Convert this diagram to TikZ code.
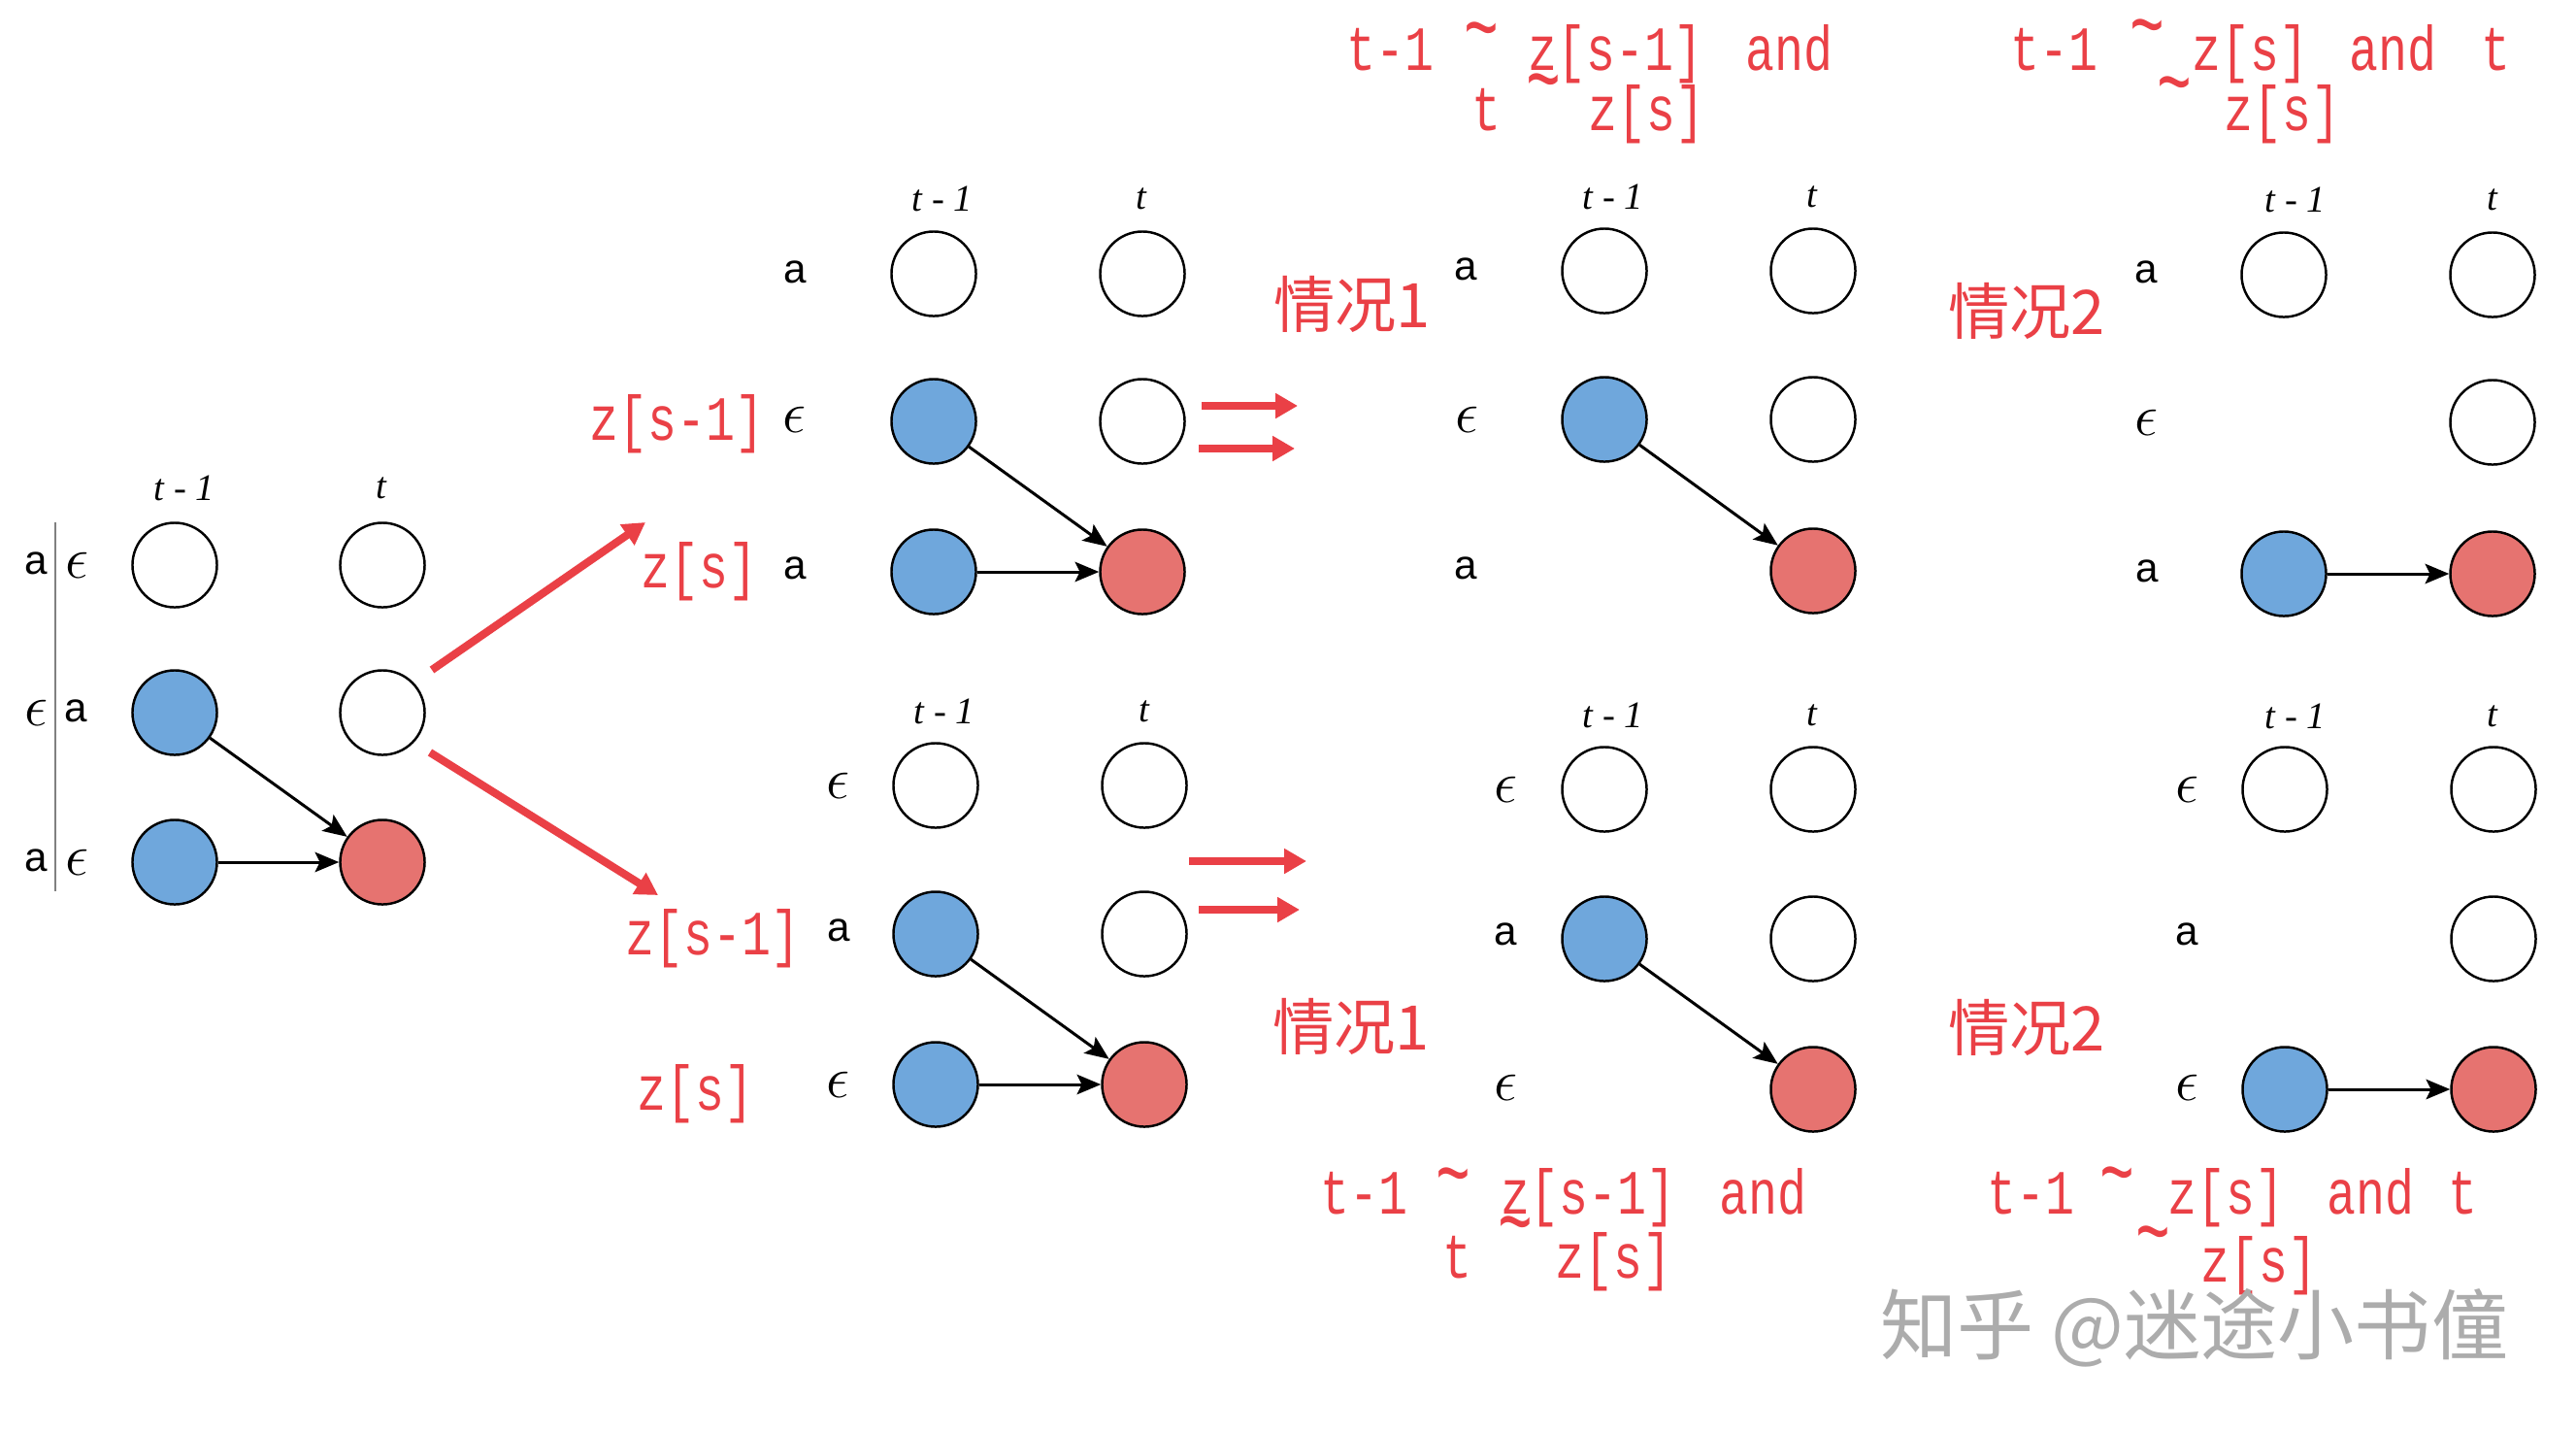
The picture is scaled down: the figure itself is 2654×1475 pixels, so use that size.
\documentclass[tikz,border=0pt]{standalone}
\usepackage{fontspec}
\usepackage{graphicx}
\usetikzlibrary{arrows.meta}
\setmainfont{Liberation Serif}
\newfontfamily\sansf{Liberation Sans}
\newfontfamily\monof{Liberation Mono}
\newfontfamily\cjkf{Noto Sans CJK SC}
\definecolor{nodeblue}{RGB}{111,167,220}
\definecolor{nodered}{RGB}{230,115,112}
\definecolor{markred}{RGB}{234,64,70}
\definecolor{wmgray}{RGB}{172,172,172}
\newcommand{\rtx}[1]{\scalebox{1}[1.3]{#1}}
\newcommand{\tlx}{\scalebox{1}[1.6]{\char`\~}}
\begin{document}
\begin{tikzpicture}[x=0.01cm, y=-0.01cm,
  st/.style={circle, draw=black, line width=0.7pt, minimum size=0.87cm, inner sep=0pt},
  emp/.style={st, fill=white},
  blu/.style={st, fill=nodeblue},
  rd/.style={st, fill=nodered},
  lab/.style={font=\sansf\fontsize{12}{14}\selectfont, inner sep=0pt},
  eps/.style={font=\fontsize{17}{19}\selectfont, inner sep=0pt},
  hdr/.style={font=\itshape\fontsize{11}{13}\selectfont, inner sep=0pt},
  blk/.style={-{Stealth[length=7pt,width=5.8pt,inset=1.4pt]}, line width=0.85pt},
  rarr/.style={-{Triangle[length=6.5pt,width=7pt]}, line width=2.3pt, draw=markred},
  rtxt/.style={text=markred, font=\monof\fontsize{14.2}{16}\selectfont, inner sep=0pt, anchor=base west},
  tld/.style={text=markred, font=\monof\fontsize{17}{19}\selectfont, inner sep=0pt},
  cjk/.style={text=markred, font=\cjkf\fontsize{18}{20}\selectfont, inner sep=0pt},
  wm/.style={text=wmgray, font=\cjkf\fontsize{22.5}{24}\selectfont, inner sep=0pt}]
\fill[white] (0,0) rectangle (2654,1475);
\useasboundingbox (0,0) rectangle (2654,1475);

% ---------------- left panel ----------------
\node[hdr] (Lh1) at (190,503) {t - 1};
\node[hdr] (Lh2) at (393,503) {t};
\node[emp] (L11) at (180,582) {};
\node[emp] (L12) at (394,582) {};
\node[blu] (L21) at (180,734) {};
\node[emp] (L22) at (394,734) {};
\node[blu] (L31) at (180,888) {};
\node[rd]  (L32) at (394,888) {};
\node[lab] (La1) at (37,580) {a};
\node[eps] (Le1) at (80,582) {$\epsilon$};
\node[eps] (Le2) at (38,734) {$\epsilon$};
\node[lab] (La2) at (78,732) {a};
\node[lab] (La3) at (37,886) {a};
\node[eps] (Le3) at (80,888) {$\epsilon$};
\draw[gray, line width=0.6pt] (57,538) -- (57,918);
\draw[blk] (L21) -- (L32);
\draw[blk] (L31) -- (L32);

% red branching arrows
\coordinate (RA1s) at (445,690);
\coordinate (RA1e) at (665,538);
\coordinate (RA2s) at (443,775);
\coordinate (RA2e) at (678,922);
\draw[rarr] (RA1s) -- (RA1e);
\draw[rarr] (RA2s) -- (RA2e);

% ---------------- top middle panel ----------------
\node[hdr] (Th1) at (971,205) {t - 1};
\node[hdr] (Th2) at (1176,205) {t};
\node[emp] (T11) at (962,282) {};
\node[emp] (T12) at (1177,282) {};
\node[blu] (T21) at (962,434) {};
\node[emp] (T22) at (1177,434) {};
\node[blu] (T31) at (962,589) {};
\node[rd]  (T32) at (1177,589) {};
\node[lab] (Ta1) at (819,280) {a};
\node[eps] (Te2) at (819,432) {$\epsilon$};
\node[lab] (Ta3) at (819,585) {a};
\draw[blk] (T21) -- (T32);
\draw[blk] (T31) -- (T32);
\node[rtxt] (Tz1) at (607,453) {\rtx{z[s-1]}};
\node[rtxt] (Tz2) at (660,605) {\rtx{z[s]}};

% ---------------- bottom middle panel ----------------
\node[hdr] (Bh1) at (973,733) {t - 1};
\node[hdr] (Bh2) at (1179,733) {t};
\node[emp] (B11) at (964,809) {};
\node[emp] (B12) at (1179,809) {};
\node[blu] (B21) at (964,962) {};
\node[emp] (B22) at (1179,962) {};
\node[blu] (B31) at (964,1117) {};
\node[rd]  (B32) at (1179,1117) {};
\node[eps] (Be1) at (864,809) {$\epsilon$};
\node[lab] (Ba2) at (864,958) {a};
\node[eps] (Be3) at (864,1117) {$\epsilon$};
\draw[blk] (B21) -- (B32);
\draw[blk] (B31) -- (B32);
\node[rtxt] (Bz1) at (644,983) {\rtx{z[s-1]}};
\node[rtxt] (Bz2) at (656,1143) {\rtx{z[s]}};

% double red arrows
\coordinate (DA1s) at (1238,418);
\coordinate (DA1e) at (1337,418);
\coordinate (DA2s) at (1235,462);
\coordinate (DA2e) at (1334,462);
\coordinate (DB1s) at (1225,887);
\coordinate (DB1e) at (1346,887);
\coordinate (DB2s) at (1235,937);
\coordinate (DB2e) at (1339,937);
\draw[rarr] (DA1s) -- (DA1e);
\draw[rarr] (DA2s) -- (DA2e);
\draw[rarr] (DB1s) -- (DB1e);
\draw[rarr] (DB2s) -- (DB2e);

% ---------------- top right, case 1 ----------------
\node[cjk] (C1t) at (1393,313) {情况1};
\node[hdr] (Ph1) at (1662,203) {t - 1};
\node[hdr] (Ph2) at (1867,203) {t};
\node[emp] (P11) at (1653,279) {};
\node[emp] (P12) at (1868,279) {};
\node[blu] (P21) at (1653,432) {};
\node[emp] (P22) at (1868,432) {};
\node[rd]  (P32) at (1868,588) {};
\node[lab] (Pa1) at (1510,277) {a};
\node[eps] (Pe2) at (1511,432) {$\epsilon$};
\node[lab] (Pa3) at (1510,585) {a};
\draw[blk] (P21) -- (P32);

% ---------------- top right, case 2 ----------------
\node[cjk] (C2t) at (2088,320) {情况2};
\node[hdr] (Qh1) at (2365,206) {t - 1};
\node[hdr] (Qh2) at (2568,206) {t};
\node[emp] (Q11) at (2353,283) {};
\node[emp] (Q12) at (2568,283) {};
\node[emp] (Q22) at (2568,435) {};
\node[blu] (Q31) at (2353,591) {};
\node[rd]  (Q32) at (2568,591) {};
\node[lab] (Qa1) at (2211,280) {a};
\node[eps] (Qe2) at (2211,435) {$\epsilon$};
\node[lab] (Qa3) at (2212,588) {a};
\draw[blk] (Q31) -- (Q32);

% ---------------- bottom right, case 1 ----------------
\node[cjk] (C1b) at (1392,1057) {情况1};
\node[hdr] (Rh1) at (1662,737) {t - 1};
\node[hdr] (Rh2) at (1867,737) {t};
\node[emp] (R11) at (1653,813) {};
\node[emp] (R12) at (1868,813) {};
\node[blu] (R21) at (1653,967) {};
\node[emp] (R22) at (1868,967) {};
\node[rd]  (R32) at (1868,1122) {};
\node[eps] (Re1) at (1551,813) {$\epsilon$};
\node[lab] (Ra2) at (1551,962) {a};
\node[eps] (Re3) at (1551,1120) {$\epsilon$};
\draw[blk] (R21) -- (R32);

% ---------------- bottom right, case 2 ----------------
\node[cjk] (C2b) at (2088,1058) {情况2};
\node[hdr] (Sh1) at (2365,738) {t - 1};
\node[hdr] (Sh2) at (2568,738) {t};
\node[emp] (S11) at (2354,813) {};
\node[emp] (S12) at (2569,813) {};
\node[emp] (S22) at (2569,967) {};
\node[blu] (S31) at (2354,1122) {};
\node[rd]  (S32) at (2569,1122) {};
\node[eps] (Se1) at (2253,813) {$\epsilon$};
\node[lab] (Sa2) at (2253,962) {a};
\node[eps] (Se3) at (2253,1120) {$\epsilon$};
\draw[blk] (S31) -- (S32);

% ---------------- top formula labels ----------------
\node[rtxt] (FA1) at (1387,72) {\rtx{t-1}};
\node[tld]  (FA2) at (1526,42) {\tlx};
\node[rtxt] (FA3) at (1574,72) {\rtx{z[s-1]}};
\node[rtxt] (FA4) at (1798,72) {\rtx{and}};
\node[rtxt] (FA5) at (1516,134) {\rtx{t}};
\node[tld]  (FA6) at (1590,95) {\tlx};
\node[rtxt] (FA7) at (1636,134) {\rtx{z[s]}};

\node[rtxt] (FB1) at (2071,72) {\rtx{t-1}};
\node[tld]  (FB2) at (2212,39) {\tlx};
\node[rtxt] (FB3) at (2258,72) {\rtx{z[s]}};
\node[rtxt] (FB4) at (2420,72) {\rtx{and}};
\node[rtxt] (FB5) at (2556,72) {\rtx{t}};
\node[tld]  (FB6) at (2240,98) {\tlx};
\node[rtxt] (FB7) at (2291,134) {\rtx{z[s]}};

% ---------------- bottom formula labels ----------------
\node[rtxt] (GA1) at (1360,1250) {\rtx{t-1}};
\node[tld]  (GA2) at (1497,1222) {\tlx};
\node[rtxt] (GA3) at (1546,1250) {\rtx{z[s-1]}};
\node[rtxt] (GA4) at (1771,1250) {\rtx{and}};
\node[rtxt] (GA5) at (1486,1316) {\rtx{t}};
\node[tld]  (GA6) at (1561,1272) {\tlx};
\node[rtxt] (GA7) at (1602,1316) {\rtx{z[s]}};

\node[rtxt] (GB1) at (2047,1250) {\rtx{t-1}};
\node[tld]  (GB2) at (2181,1221) {\tlx};
\node[rtxt] (GB3) at (2233,1250) {\rtx{z[s]}};
\node[rtxt] (GB4) at (2397,1250) {\rtx{and}};
\node[rtxt] (GB5) at (2522,1250) {\rtx{t}};
\node[tld]  (GB6) at (2218,1282) {\tlx};
\node[rtxt] (GB7) at (2267,1320) {\rtx{z[s]}};

% watermark
\node[wm] (WM) at (2261,1368) {知乎 @迷途小书僮};
\end{tikzpicture}
\end{document}
